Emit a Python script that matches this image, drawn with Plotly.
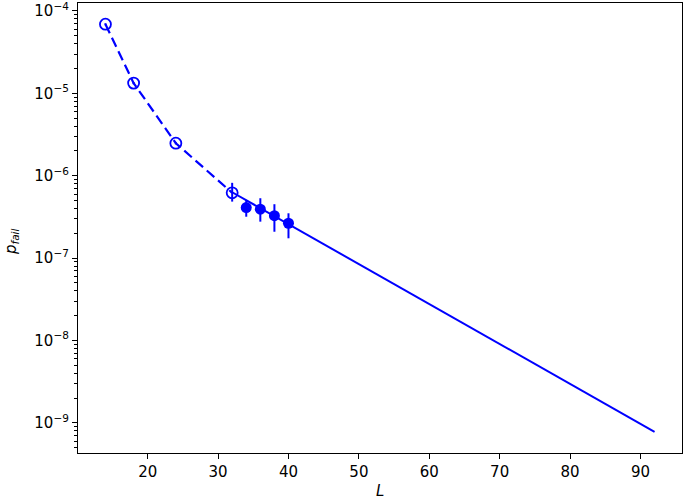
import plotly.graph_objects as go

# open-circle points (dashed curve)
L_open = [14, 18, 24, 32]
p_open = [6.9e-5, 1.33e-5, 2.48e-6, 6.2e-7]
p_open_hi = [7.1e-5, 1.37e-5, 2.56e-6, 8.2e-7]
p_open_lo = [6.7e-5, 1.29e-5, 2.40e-6, 4.85e-7]

# filled points
L_fill = [34, 36, 38, 40]
p_fill = [4.1e-7, 3.92e-7, 3.27e-7, 2.65e-7]
p_fill_hi = [5.08e-7, 5.33e-7, 4.51e-7, 3.5e-7]
p_fill_lo = [3.18e-7, 2.77e-7, 2.09e-7, 1.74e-7]

# extrapolation line
L_fit = [32, 92]
p_fit = [6.3e-7, 7.8e-10]

x_ticks = [20, 30, 40, 50, 60, 70, 80, 90]
y_exps = [-4, -5, -6, -7, -8, -9]

BLUE = "#0000ff"
FONT = "DejaVu Sans"

def errs(v, hi, lo):
    return ([h - a for a, h in zip(v, hi)], [a - l for a, l in zip(v, lo)])

fig = go.Figure()

fig.add_trace(go.Scatter(x=L_fit, y=p_fit, mode="lines",
                         line=dict(color=BLUE, width=2), showlegend=False))

ep, em = errs(p_open, p_open_hi, p_open_lo)
fig.add_trace(go.Scatter(
    x=L_open, y=p_open, mode="lines+markers",
    line=dict(color=BLUE, width=2.2, dash="10px,5px"),
    marker=dict(symbol="circle-open", size=11, color=BLUE, line=dict(width=1.8, color=BLUE)),
    error_y=dict(type="data", array=ep, arrayminus=em, color=BLUE, thickness=2, width=0),
    showlegend=False))

ep, em = errs(p_fill, p_fill_hi, p_fill_lo)
fig.add_trace(go.Scatter(
    x=L_fill, y=p_fill, mode="markers",
    marker=dict(symbol="circle", size=11, color=BLUE),
    error_y=dict(type="data", array=ep, arrayminus=em, color=BLUE, thickness=2, width=0),
    showlegend=False))

fig.update_layout(
    width=685, height=502,
    margin=dict(l=78, r=3, t=3, b=49, autoexpand=False),
    paper_bgcolor="white", plot_bgcolor="white",
    font=dict(family=FONT, size=15, color="black"),
    xaxis=dict(range=[10.1, 95.9], tickvals=x_ticks, ticks="outside", ticklen=5,
               tickwidth=1, tickcolor="black", showline=True, linecolor="black",
               linewidth=1.2, mirror=True, showgrid=False, zeroline=False,
               automargin=False, ticklabeloverflow="allow"),
    yaxis=dict(type="log", range=[-9.365, -3.904],
               tickvals=[10.0 ** e for e in y_exps],
               ticktext=[f"10<sup>\u2212{-e}</sup>" for e in y_exps],
               ticks="outside", ticklen=5, tickwidth=1, tickcolor="black",
               minor=dict(ticks="outside", ticklen=3, tickwidth=1, tickcolor="black",
                          tickvals=[m * 10.0 ** e for e in range(-10, -3) for m in range(2, 10)]),
               showline=True, linecolor="black", linewidth=1.2, mirror=True,
               showgrid=False, zeroline=False, automargin=False,
               ticklabeloverflow="allow"),
    annotations=[
        dict(text="<i>L</i>", xref="paper", yref="paper", x=0.5, y=-0.085,
             xanchor="center", yanchor="middle", showarrow=False, font=dict(size=15)),
        dict(text="<i>p</i><sub><i>fail</i></sub>", xref="paper", yref="paper",
             x=-0.11, y=0.47, xanchor="center", yanchor="middle", textangle=-90,
             showarrow=False, font=dict(size=15)),
    ],
)

fig.write_html("out.html", config={"displayModeBar": False},
               post_script="document.body.style.margin='0';"
                           "document.body.style.overflow='hidden';")
